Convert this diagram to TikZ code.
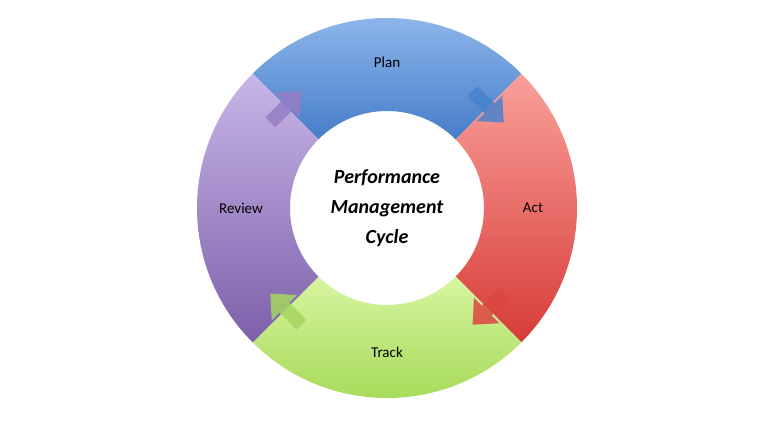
\documentclass[tikz,border=0pt]{standalone}
\usepackage{fontspec}
\setmainfont{Carlito}
\definecolor{ab}{RGB}{70,130,205}
\definecolor{ar}{RGB}{220,70,65}
\definecolor{ag}{RGB}{165,215,95}
\definecolor{ap}{RGB}{150,125,195}
\begin{document}
\begin{tikzpicture}[x=1pt,y=1pt,
  lbl/.style={font=\fontsize{15}{18}\selectfont},
  arr/.style={fill opacity=0.85}]
\useasboundingbox (0,0) rectangle (768,447);
\fill[white] (0,0) rectangle (768,447);
\coordinate (c) at (387,239);
\def\R{190}\def\r{97}
\shade[top color={rgb,255:red,150;green,190;blue,240},bottom color={rgb,255:red,70;green,125;blue,200},shift={(c)}]
  (45:\R) arc (45:135:\R) -- (135:\r) arc (135:45:\r) -- cycle;
\shade[top color={rgb,255:red,250;green,160;blue,155},bottom color={rgb,255:red,215;green,60;blue,55},shift={(c)}]
  (-45:\R) arc (-45:45:\R) -- (45:\r) arc (45:-45:\r) -- cycle;
\shade[top color={rgb,255:red,215;green,245;blue,160},bottom color={rgb,255:red,160;green,215;blue,80},shift={(c)}]
  (225:\R) arc (225:315:\R) -- (315:\r) arc (315:225:\r) -- cycle;
\shade[top color={rgb,255:red,200;green,182;blue,232},bottom color={rgb,255:red,125;green,95;blue,170},shift={(c)}]
  (135:\R) arc (135:225:\R) -- (225:\r) arc (225:135:\r) -- cycle;
\def\arrowshape{(-22,-7) -- (2,-7) -- (2,-18) -- (22,0) -- (2,18) -- (2,7) -- (-22,7) -- cycle}
\fill[arr,fill=ab,shift={(c)},shift={(45:143)},rotate=-45] \arrowshape;
\fill[arr,fill=ar,shift={(c)},shift={(-45:143)},rotate=-135] \arrowshape;
\fill[arr,fill=ag,shift={(c)},shift={(225:143)},rotate=135] \arrowshape;
\fill[arr,fill=ap,shift={(c)},shift={(135:143)},rotate=45] \arrowshape;
\node[lbl] (plan) at (387,385) {Plan};
\node[lbl] (act) at (533,239) {Act};
\node[lbl] (track) at (387,95) {Track};
\node[lbl] (review) at (241,239) {Review};
\node[align=center,font=\fontsize{20}{30}\selectfont\bfseries\itshape] (centre) at (387,239) {Performance\\Management\\Cycle};
\end{tikzpicture}
\end{document}
